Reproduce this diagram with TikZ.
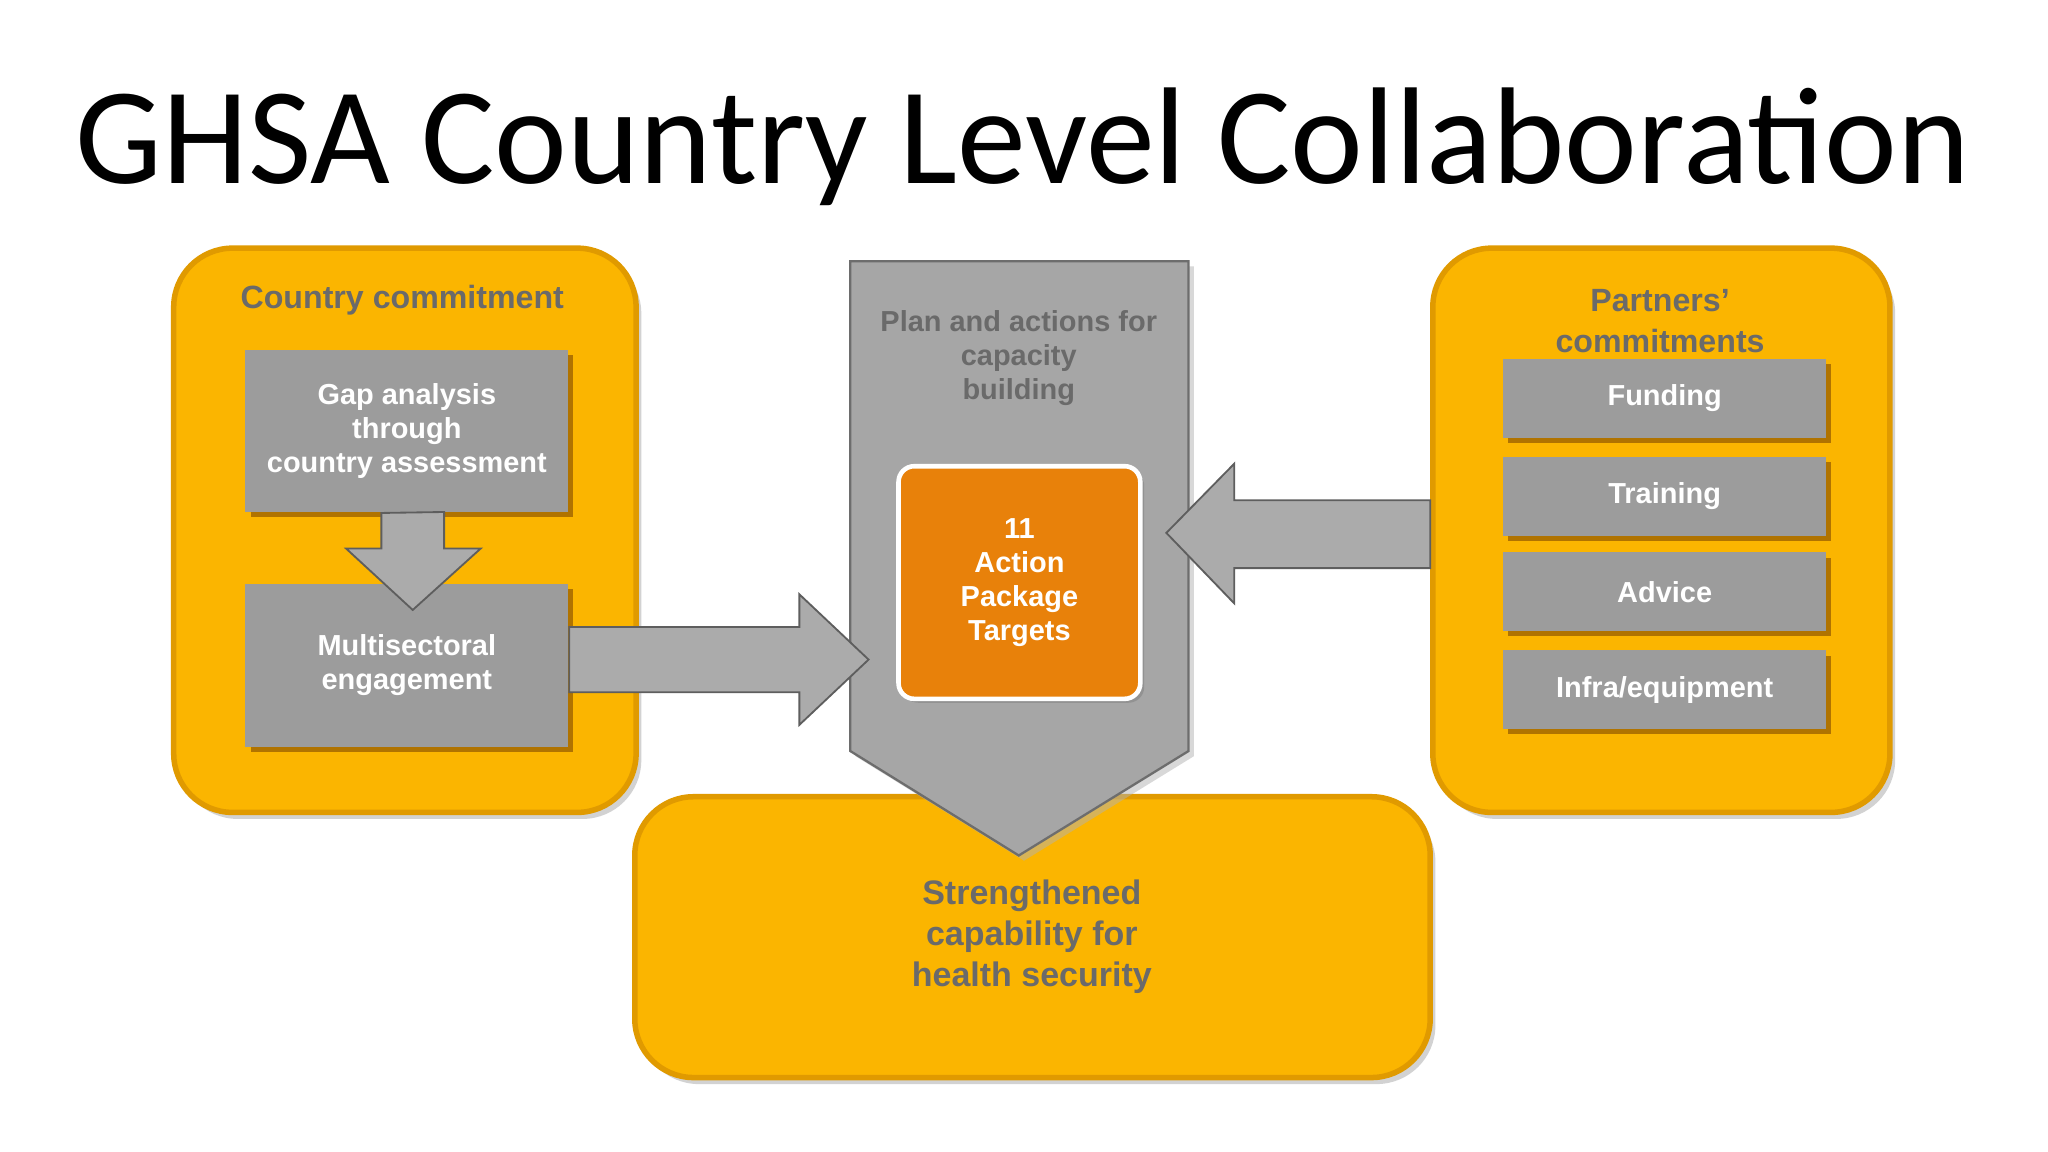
\documentclass[tikz,border=0pt]{standalone}
\usepackage{fontspec}
\setmainfont{Liberation Sans}
\newfontfamily\titlefont{Carlito}
\usetikzlibrary{shadows}
\definecolor{org}{HTML}{FBB500}
\definecolor{orgd}{HTML}{E09A00}
\definecolor{gr}{HTML}{9C9C9C}
\definecolor{grt}{HTML}{6A6A6A}
\definecolor{dorg}{HTML}{E8810A}
\begin{document}
\begin{tikzpicture}[x=0.01cm,y=-0.01cm,
  obox/.style={fill=org,draw=orgd,line width=1.2pt,rounded corners=0.45cm,
    drop shadow={shadow xshift=0.04cm,shadow yshift=-0.05cm,fill=black!35}},
  gbox/.style={fill=gr,draw=none,
    drop shadow={shadow xshift=0.04cm,shadow yshift=-0.04cm,fill=black!60!orange}},
  garrow/.style={fill=gr!85,draw=gr!60!black,line width=0.4pt},
  wt/.style={text=white,font=\bfseries\fontsize{6.3}{7.4}\selectfont,align=center},
  ht/.style={text=grt,font=\bfseries\fontsize{7}{8.8}\selectfont,align=center}]
\useasboundingbox (0,0) rectangle (1568,882);
\fill[white] (0,0) rectangle (1568,882);
\node (title) at (783,112) {\titlefont\fontsize{30}{36}\selectfont GHSA Country Level Collaboration};
% big boxes
\path[obox] (133,190) rectangle (487,622);
\path[obox] (1097,190) rectangle (1447,622);
\path[obox] (486,610) rectangle (1095,825);
\node[coordinate] (lbox) at (310,406) {};
\node[ht] (cc) at (308,230) {Country commitment};
\node[ht] (pc) at (1271,246) {Partners'\\commitments};
\node[ht,font=\bfseries\fontsize{7.4}{8.9}\selectfont] (sc) at (790,717) {Strengthened\\capability for\\health security};
% pentagon
\path[fill=gr!90,draw=gr!70!black,line width=0.5pt,
  drop shadow={shadow xshift=0.04cm,shadow yshift=-0.04cm,fill=black!30}]
  (651,200) -- (910,200) -- (910,575) -- (780,655) -- (651,575) -- cycle;
\node[text=grt,font=\bfseries\fontsize{6.3}{7.4}\selectfont,align=center] (plan) at (780,274) {Plan and actions for\\capacity\\building};
\node[fill=dorg,draw=white,line width=1pt,rounded corners=0.12cm,minimum width=1.85cm,minimum height=1.78cm,wt,
  drop shadow={shadow xshift=0.03cm,shadow yshift=-0.03cm,fill=black!50}] (ap) at (780.5,446) {11\\Action\\Package\\Targets};
% left gray boxes
\node[gbox,minimum width=2.47cm,minimum height=1.24cm,wt] (gap) at (311.5,330) {Gap analysis\\through\\country assessment};
\node[gbox,minimum width=2.47cm,minimum height=1.25cm,wt] (ms) at (311.5,509.5) {Multisectoral\\engagement};
% right gray boxes
\foreach \n/\t/\y in {f/Funding/305,t/Training/380,a/Advice/453,i/Infra\slash equipment/528}
  \node[gbox,minimum width=2.47cm,minimum height=0.6cm,wt] (\n) at (1274.5,\y) {\t};
% arrows
\path[garrow] (gap.south -| 292,0) -- (292,420) -- (265,420) -- (316,467) -- (368,420) -- (340,420) -- (340,392) -- cycle;
\path[garrow] (ms.east |- 0,480) -- (612,480) -- (612,455) -- (665,505) -- (612,555) -- (612,530) -- (ms.east |- 0,530) -- cycle;
\path[garrow] (1095,383) -- (945,383) -- (945,355) -- (893,408) -- (945,462) -- (945,435) -- (1095,435) -- cycle;
\end{tikzpicture}
\end{document}
